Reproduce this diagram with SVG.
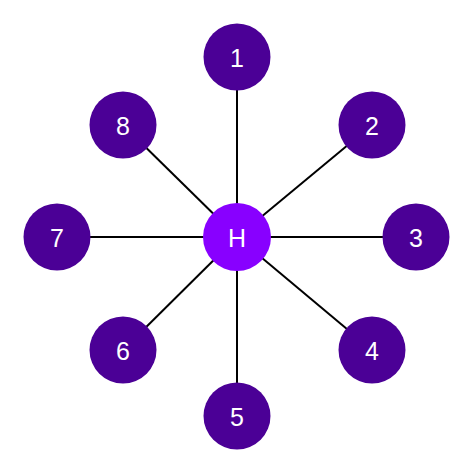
<svg xmlns="http://www.w3.org/2000/svg" width="474" height="474" viewBox="0 0 474 474">
<style>
.o{fill:#4b0096}
.h{fill:#8800ff}
text{font-family:"Liberation Sans",Arial,sans-serif;font-size:25px;fill:#fff;text-anchor:middle;dominant-baseline:central}
line{stroke:#000;stroke-width:2}
</style>
<rect width="474" height="474" fill="#fff"/>
<g id="connectors">
<line x1="237" y1="237" x2="237" y2="57"/>
<line x1="237" y1="237" x2="372" y2="125"/>
<line x1="237" y1="237" x2="416" y2="237"/>
<line x1="237" y1="237" x2="372" y2="350"/>
<line x1="237" y1="237" x2="237" y2="416"/>
<line x1="237" y1="237" x2="123" y2="350"/>
<line x1="237" y1="237" x2="57" y2="237"/>
<line x1="237" y1="237" x2="123" y2="125"/>
</g>
<g id="n1"><circle class="o" cx="237" cy="57" r="33.5"/><text x="237" y="58">1</text></g>
<g id="n2"><circle class="o" cx="372" cy="125" r="33.5"/><text x="372" y="126">2</text></g>
<g id="n3"><circle class="o" cx="416" cy="237" r="33.5"/><text x="416" y="238">3</text></g>
<g id="n4"><circle class="o" cx="372" cy="350" r="33.5"/><text x="372" y="351">4</text></g>
<g id="n5"><circle class="o" cx="237" cy="416" r="33.5"/><text x="237" y="417">5</text></g>
<g id="n6"><circle class="o" cx="123" cy="350" r="33.5"/><text x="123" y="351">6</text></g>
<g id="n7"><circle class="o" cx="57" cy="237" r="33.5"/><text x="57" y="238">7</text></g>
<g id="n8"><circle class="o" cx="123" cy="125" r="33.5"/><text x="123" y="126">8</text></g>
<g id="h"><circle class="h" cx="237" cy="237" r="34"/><text x="237" y="238">H</text></g>
</svg>
